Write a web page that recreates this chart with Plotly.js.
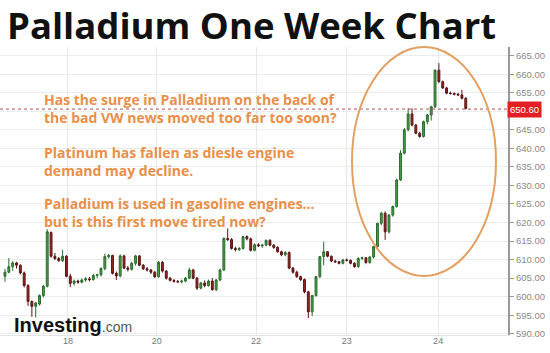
<!DOCTYPE html>
<html>
<head>
<meta charset="utf-8">
<script src="https://cdn.plot.ly/plotly-3.0.1.min.js"></script>
<style>
html,body{margin:0;padding:0;background:#fff;}
#chart{width:550px;height:353px;}
</style>
</head>
<body>
<div id="chart"></div>
<script>
// Hourly palladium candles (USD/oz)
var openP  = [605.5,606.6,608.1,609.1,608.5,606.4,603.0,598.7,597.4,598.0,600.3,602.8,617.3,610.9,610.3,609.7,610.9,605.5,603.6,604.2,603.9,604.5,604.8,604.6,605.7,605.9,607.6,610.8,611.1,606.3,605.6,611.0,
              607.7,607.4,609.0,611.0,608.5,607.5,607.2,606.6,605.4,609.3,606.9,605.0,604.4,604.1,604.0,604.2,605.0,607.2,605.0,602.3,603.7,603.0,604.2,601.9,604.5,607.2,615.7,615.4,613.0,612.7,613.0,616.2,615.6,612.5,
              614.0,613.7,613.9,615.2,613.9,613.3,612.1,611.3,611.9,607.7,606.6,605.4,604.6,601.3,595.9,600.3,605.4,610.8,612.1,610.9,609.6,609.4,609.0,609.9,609.8,609.0,608.1,610.3,610.5,609.2,610.7,613.5,
              619.8,622.5,617.5,622.0,624.3,631.5,638.7,645.0,649.3,646.3,644.1,643.2,647.2,649.0,651.2,661.1,658.0,656.3,654.9,654.8,654.6,654.4,653.5];
var highP  = [607.5,610.4,609.6,609.4,608.7,606.8,603.4,599.0,598.6,600.6,603.2,618.2,617.6,611.8,610.7,612.6,611.2,606.2,604.6,604.6,604.9,605.3,605.3,606.2,606.2,607.9,611.6,611.5,611.3,606.8,611.4,611.3,
              608.3,609.4,611.3,611.2,608.8,608.0,607.5,606.9,609.6,609.6,607.2,605.3,604.7,604.5,604.6,605.3,607.8,607.5,605.3,604.0,604.4,604.6,605.0,604.8,607.6,616.0,618.4,615.8,613.5,613.4,616.4,616.5,615.9,614.4,
              614.4,614.3,615.4,615.5,614.2,613.6,612.4,612.3,612.2,608.0,607.0,605.7,604.9,601.6,600.5,605.6,611.0,614.8,612.3,611.1,610.0,609.6,610.2,610.3,610.0,609.3,610.6,610.8,610.7,611.0,613.7,619.9,
              622.9,623.0,622.3,624.6,631.8,639.5,645.5,650.8,650.8,646.6,644.5,647.5,649.3,651.5,661.3,663.0,658.3,656.6,655.3,655.1,655.0,655.8,653.8];
var lowP   = [604.0,606.3,607.0,607.6,606.0,602.5,597.5,594.6,594.4,597.6,599.8,602.5,610.5,609.9,609.4,609.4,605.2,602.6,603.0,603.5,603.6,604.0,604.1,604.3,605.0,605.4,607.1,610.3,606.0,604.5,605.2,607.4,
              606.8,607.0,608.4,608.2,607.2,606.8,606.1,605.0,605.1,606.5,604.6,604.1,603.8,603.7,603.6,603.9,604.7,604.7,601.8,602.0,602.5,602.7,601.6,601.5,604.2,606.9,615.0,612.7,612.2,612.3,612.7,615.2,612.2,612.2,
              613.4,613.2,613.6,613.6,612.9,611.9,610.9,610.9,607.4,606.2,605.1,604.2,600.9,594.2,594.8,600.0,605.0,608.5,610.6,609.3,609.1,608.7,608.7,609.5,608.7,607.8,607.8,609.9,608.9,608.9,610.3,613.2,
              619.3,615.3,617.0,621.6,624.0,631.2,638.4,644.6,645.9,643.8,642.9,642.9,646.5,647.5,650.9,657.7,656.0,654.6,654.5,654.3,654.2,653.2,650.5];
var closeP = [606.6,608.1,609.1,608.5,606.4,603.0,598.7,597.4,598.3,600.3,602.8,617.5,610.9,610.3,609.7,610.9,605.5,603.6,604.2,603.9,604.5,604.8,604.6,605.7,605.9,607.6,610.8,611.1,606.3,605.6,611.0,607.7,
              607.4,609.0,611.0,608.5,607.5,607.2,606.6,605.4,609.3,606.9,605.0,604.4,604.1,604.0,604.2,605.0,607.2,605.0,602.3,603.7,603.0,604.2,601.9,604.5,607.2,615.7,615.4,613.0,612.7,613.0,616.2,615.6,612.5,614.0,
              613.7,613.9,615.2,613.9,613.3,612.1,611.3,611.9,607.7,606.6,605.4,604.6,601.3,595.9,600.3,605.4,610.8,612.1,610.9,609.6,609.4,609.0,609.9,609.8,609.0,608.1,610.3,610.5,609.2,610.7,613.5,619.8,
              622.5,617.5,622.0,624.3,631.5,638.7,645.0,649.3,646.3,644.1,643.2,647.2,649.0,651.2,661.1,658.0,656.3,654.9,654.8,654.6,654.4,653.5,650.8];
var currentPrice = 650.60;
// price axis ticks
var priceTicks = [590,595,600,605,610,615,620,625,630,635,640,645,650,655,660,665];
// day labels along the time axis (candle index where each day label sits)
var dayTickIndex = [16.4, 39.5, 65.4, 89, 112.8];
var dayTickLabels = ['18', '20', '22', '23', '24'];

var notes = [
  'Has the surge in Palladium on the back of<br>the bad VW news moved too far too soon?',
  'Platinum has fallen as diesle engine<br>demand may decline.',
  'Palladium is used in gasoline engines...<br>but is this first move tired now?'
];
var noteTopPx = [88, 141, 192];

var idx = openP.map(function(_, i){ return i; });
// the price tag covers the tick label nearest to the last price
var priceTickText = priceTicks.map(function(v){
  return Math.abs(v - currentPrice) < 2.5 ? '' : v.toFixed(2);
});

var trace = {
  type: 'candlestick',
  x: idx, open: openP, high: highP, low: lowP, close: closeP,
  increasing: {line: {color: '#2b6b2e', width: 1}, fillcolor: '#46a046'},
  decreasing: {line: {color: '#5a1414', width: 1}, fillcolor: '#9a2626'},
  whiskerwidth: 0,
  hoverinfo: 'skip'
};

var noteAnns = notes.map(function(t, i){
  return {xref: 'paper', yref: 'paper', x: 42/508, y: (335 - noteTopPx[i])/288,
    xanchor: 'left', yanchor: 'top', align: 'left', showarrow: false, text: t,
    font: {family: '"Open Sans", Lato, sans-serif', size: 14, color: '#e8904a', weight: 'bold'}};
});

var layout = {
  width: 550, height: 353,
  margin: {l: 0, r: 42, t: 47, b: 18},
  paper_bgcolor: '#ffffff', plot_bgcolor: '#ffffff',
  showlegend: false,
  title: {text: 'Palladium One Week Chart', x: 7/550, xanchor: 'left', xref: 'container',
          y: 1 - 26/353, yanchor: 'middle', yref: 'container',
          font: {family: '"Open Sans", Lato, sans-serif', size: 36.5, color: '#111111', weight: 'bold'}},
  xaxis: {range: [-1.3, 131], rangeslider: {visible: false}, tickmode: 'array',
          tickvals: dayTickIndex, ticktext: dayTickLabels, showgrid: true, gridcolor: '#e8e8e8',
          zeroline: false, showline: true, linecolor: '#e4e4e4', ticks: '', ticklabelstandoff: -3,
          tickfont: {family: 'Liberation Sans, Arial', size: 9, color: '#777'}},
  yaxis: {side: 'right', range: [589.66, 667.35], tickmode: 'array', tickvals: priceTicks,
          ticktext: priceTickText,
          showgrid: true, gridcolor: '#ececec', zeroline: false, showline: true,
          linecolor: '#9a9a9a', linewidth: 2, ticks: 'outside', ticklen: 4, tickcolor: '#9a9a9a',
          tickfont: {family: 'Liberation Sans, Arial', size: 9.5, color: '#8a8a8a'}},
  shapes: [
    {type: 'line', xref: 'paper', x0: 0, x1: 1, yref: 'y', y0: currentPrice, y1: currentPrice,
     line: {color: '#b05050', width: 1, dash: 'dot'}},
    {type: 'circle', xref: 'paper', yref: 'paper', x0: 352/508, x1: 496/508, y0: 59/288, y1: 1.0,
     line: {color: '#e3a062', width: 2}}
  ],
  annotations: noteAnns.concat([
    {xref: 'paper', yref: 'y', x: 1, y: currentPrice, xanchor: 'left', yanchor: 'middle', xshift: -1,
     showarrow: false, text: currentPrice.toFixed(2), bgcolor: '#e31e24', borderpad: 2,
     font: {family: 'Liberation Sans, Arial', size: 9.5, color: '#ffffff'}},
    {xref: 'paper', yref: 'paper', x: 12/508, y: (335-325)/288, xanchor: 'left', yanchor: 'middle',
     showarrow: false,
     text: '<b>Investing</b><span style="font-size:14px;color:#555">.com</span>',
     font: {family: 'Liberation Sans, Arial', size: 20, color: '#111'}}
  ])
};

Plotly.newPlot('chart', [trace], layout, {staticPlot: true, displayModeBar: false});
</script>
</body>
</html>
